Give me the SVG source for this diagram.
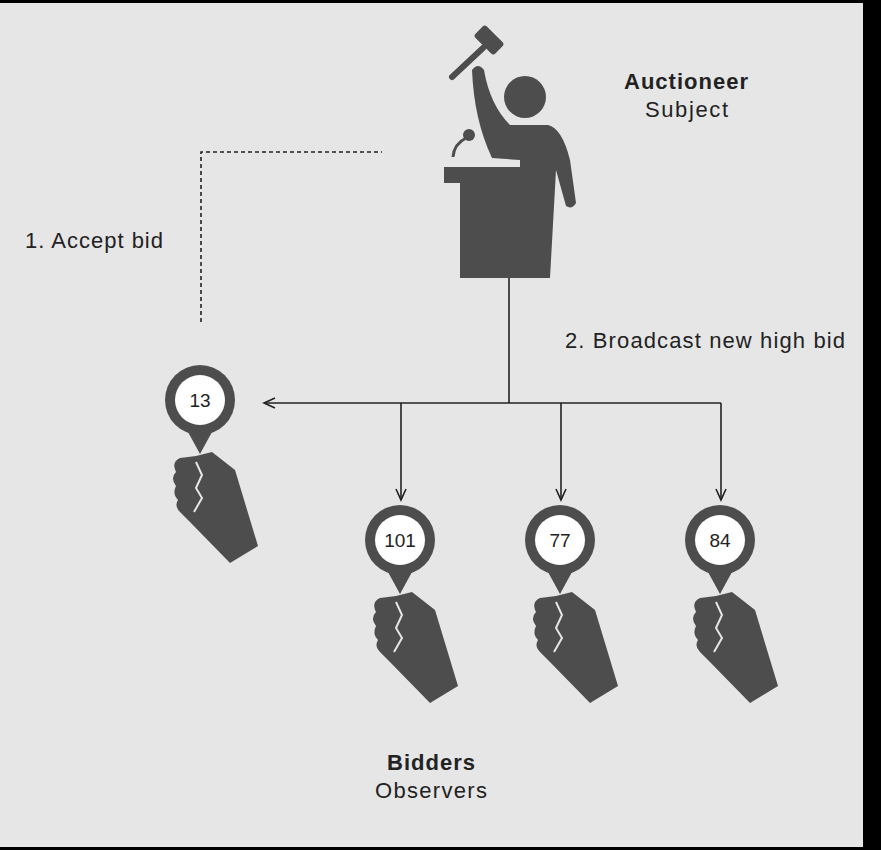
<svg xmlns="http://www.w3.org/2000/svg" width="881" height="850" viewBox="0 0 881 850">
<style>
text{font-family:"Liberation Sans",Arial,sans-serif;fill:#222;font-size:22px}
.ic{fill:#4d4d4d}
.ln{stroke:#222;stroke-width:1.6;fill:none}
.num{font-size:19px;text-anchor:middle}
</style>
<defs>
<marker id="ah" markerWidth="14" markerHeight="12" refX="12" refY="6" orient="auto" markerUnits="userSpaceOnUse">
<path d="M1,1 L12,6 L1,11" fill="none" stroke="#222" stroke-width="1.6"/>
</marker>
<g id="paddle">
<circle r="35" class="ic"/>
<circle r="25" fill="#fff"/>
<path class="ic" d="M-12,32 L0,54 L12,32 Z"/>
<path class="ic" d="M-4,56 L12,52 L35,70 L58,146 L30,163 L-10,122 L-20,112 Q-26,106 -22,100 Q-28,94 -24,86 Q-30,78 -24,72 Q-29,62 -20,58 Z"/>
<path d="M-4,62 L2,75 L-4,88 L2,98 L-6,112" stroke="#e6e6e6" stroke-width="2" fill="none"/>
</g>
</defs>
<rect width="881" height="850" fill="#000"/>
<rect x="0" y="3" width="863" height="844" fill="#e6e6e6"/>
<g id="connectors">
<path class="ln" d="M201,322 V152 H382" stroke-dasharray="4,3"/>
<path class="ln" d="M509,278 V403"/>
<path class="ln" d="M721,403 H264" marker-end="url(#ah)"/>
<path class="ln" d="M401,403 V500" marker-end="url(#ah)"/>
<path class="ln" d="M561,403 V500" marker-end="url(#ah)"/>
<path class="ln" d="M721,403 V500" marker-end="url(#ah)"/>
</g>
<g id="auctioneer">
<rect x="475" y="32" width="28" height="16" rx="3" class="ic" transform="rotate(45 489 40)"/>
<path d="M452,77 L483,48" stroke="#4d4d4d" stroke-width="6" stroke-linecap="round"/>
<circle cx="525" cy="97" r="21" class="ic"/>
<path class="ic" d="M472,70 Q478,62 484,70 Q490,105 510,125 L548,125 Q562,128 570,160 L576,203 Q572,210 566,206 L556,170 L550,278 L460,278 L460,183 L444,183 L444,167 L520,167 L520,160 L492,158 Q474,120 472,70 Z"/>
<circle cx="469" cy="135" r="6" class="ic"/>
<path d="M466,138 Q454,144 453,157" stroke="#4d4d4d" stroke-width="3" fill="none"/>
<text x="624" y="89" font-weight="bold" textLength="124">Auctioneer</text>
<text x="645" y="117" textLength="83">Subject</text>
</g>
<g id="bidder13"><use href="#paddle" x="200" y="400"/><text class="num" x="200" y="407">13</text></g>
<g id="bidder101"><use href="#paddle" x="400" y="540"/><text class="num" x="400" y="547">101</text></g>
<g id="bidder77"><use href="#paddle" x="560" y="540"/><text class="num" x="560" y="547">77</text></g>
<g id="bidder84"><use href="#paddle" x="720" y="540"/><text class="num" x="720" y="547">84</text></g>
<g id="labels">
<text x="25" y="248" textLength="138">1. Accept bid</text>
<text x="565" y="348" textLength="280">2. Broadcast new high bid</text>
<text x="387" y="770" font-weight="bold" textLength="88">Bidders</text>
<text x="375" y="798" textLength="112">Observers</text>
</g>
</svg>
